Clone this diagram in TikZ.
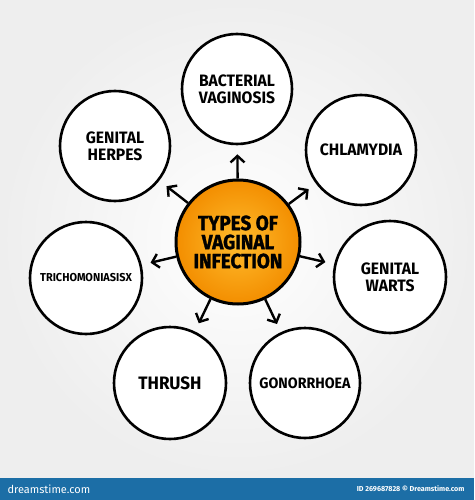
\documentclass[tikz,border=0pt]{standalone}
\usepackage{fontspec}
\setmainfont{Fira Sans}
\newfontfamily\hand[FakeStretch=0.95]{Fira Sans}
\newfontfamily\handB[FakeStretch=0.92,FakeBold=1.5]{Fira Sans Bold}
\usetikzlibrary{arrows.meta}
\definecolor{orIn}{RGB}{255,188,45}
\definecolor{orOut}{RGB}{243,142,0}
\definecolor{barblue}{RGB}{28,110,166}
\definecolor{bgedge}{RGB}{238,238,238}
\begin{document}
\begin{tikzpicture}[x=1pt,y=-1pt,
  leaf/.style={circle, draw=black, line width=2.6pt, fill=white, minimum size=#1, inner sep=0pt, align=center,
    font=\hand\bfseries\fontsize{16.5}{17}\selectfont},
  leaf/.default=110pt,
  hub/.style={circle, draw=black, line width=3pt, minimum size=124pt, inner sep=0pt, align=center,
    inner color=orIn, outer color=orOut, font=\handB\fontsize{20.5}{19}\selectfont},
  arr/.style={line width=2.4pt, -{Straight Barb[length=6.5pt,width=14pt,line width=2.4pt]}, shorten >=9pt}]
\useasboundingbox (0,0) rectangle (474,500);
\shade[inner color=white, outer color=bgedge] (0,0) rectangle (474,478);
\fill[barblue] (0,478) rectangle (474,500);
\node[anchor=west, text=white, font=\fontsize{11}{12}\selectfont] (brand) at (4,489) {dreamstime.com};
\node[anchor=east, text=white, font=\bfseries\fontsize{7.2}{8}\selectfont] (idtxt) at (468,489) {ID 269687828 \textcopyright{} Dreamstime.com};

\node[hub] (c) at (238,242) {TYPES OF\\VAGINAL\\INFECTION};
\node[leaf] (bv) at (237,89) {BACTERIAL\\VAGINOSIS};
\node[leaf] (chl) at (361,150) {CHLAMYDIA};
\node[leaf=112pt] (gw) at (390,277) {GENITAL\\WARTS};
\node[leaf, font=\hand\bfseries\fontsize{15}{15}\selectfont] (gon) at (305,383) {GONORRHOEA};
\node[leaf=112pt, font=\hand\bfseries\fontsize{18}{18}\selectfont] (thr) at (170,383) {THRUSH};
\node[leaf=112pt, font=\hand\bfseries\fontsize{11.5}{12}\selectfont] (tri) at (86,278) {TRICHOMONIASISX};
\node[leaf] (gh) at (115,146) {GENITAL\\HERPES};

\foreach \t in {bv,chl,gw,gon,thr,tri,gh}
  \draw[arr] (c) -- (\t);
\end{tikzpicture}
\end{document}
